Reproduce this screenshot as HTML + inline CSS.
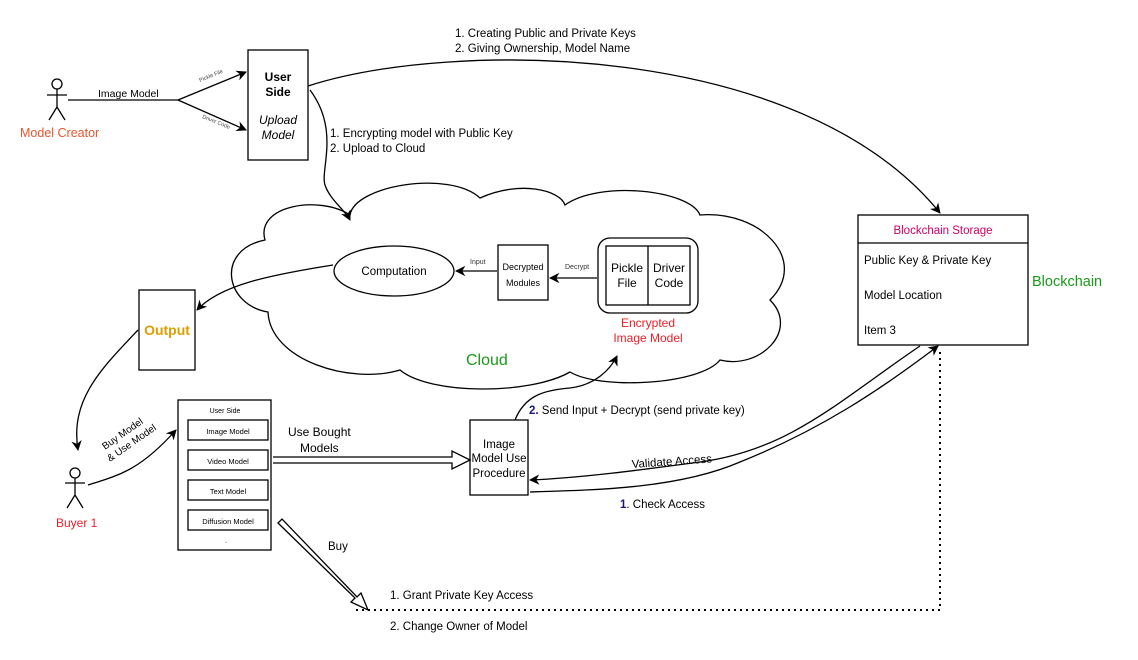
<!DOCTYPE html>
<html><head><meta charset="utf-8"><style>
body{margin:0;background:#fff}
svg{display:block;font-family:"Liberation Sans",Arial,sans-serif}
</style></head><body>
<svg width="1138" height="660" viewBox="0 0 1138 660" xmlns="http://www.w3.org/2000/svg">
<defs>
<marker id="a" viewBox="0 0 10 10" refX="9" refY="5" markerWidth="8" markerHeight="8" orient="auto-start-reverse"><path d="M0,0 L10,5 L0,10 L3,5z" fill="#000"/></marker>
</defs>
<rect width="1138" height="660" fill="#fff"/>
<g fill="none" stroke="#000" stroke-width="1.3">
<circle cx="57" cy="84" r="5"/>
<path d="M57,89 V107 M47,95 H67 M57,107 L49,120 M57,107 L65,120"/>
<path d="M68,100 H178"/>
<path d="M178,100 L246,72" marker-end="url(#a)"/>
<path d="M178,100 L246,130" marker-end="url(#a)"/>
<rect x="248" y="50" width="60" height="110"/>
<path d="M308,86 C450,40 800,40 940,213" marker-end="url(#a)"/>
<path d="M310,90 C340,130 320,170 325,185 C330,200 345,210 350,220" marker-end="url(#a)"/>
<path d="M268,312 C225,305 215,250 265,240 C255,205 320,195 350,215 C355,185 450,170 480,198 C520,180 560,190 565,205 C600,180 690,190 700,215 C760,210 810,260 770,300 C800,330 760,370 720,360 C700,385 600,390 570,372 C530,395 430,395 400,370 C350,385 270,360 268,312 Z"/>
<ellipse cx="394" cy="271" rx="60" ry="25"/>
<rect x="498" y="245" width="50" height="55"/>
<rect x="598" y="238" width="100" height="75" rx="12"/>
<rect x="606" y="246" width="84" height="59"/>
<path d="M648,246 V305"/>
<path d="M597,278 H550" marker-end="url(#a)"/>
<path d="M497,271 H456" marker-end="url(#a)"/>
<rect x="858" y="215" width="170" height="130"/>
<path d="M858,243 H1028"/>
<rect x="139" y="290" width="56" height="80"/>
<path d="M333,265 C270,275 220,285 197,310" marker-end="url(#a)"/>
<path d="M138,330 C100,370 70,400 78,450" marker-end="url(#a)"/>
<circle cx="75" cy="473" r="5"/>
<path d="M75,478 V495 M65,483 H85 M75,495 L67,508 M75,495 L83,508"/>
<path d="M88,485 C120,475 140,470 176,430" marker-end="url(#a)"/>
<rect x="178" y="400" width="93" height="150"/>
<rect x="188" y="420" width="80" height="20"/>
<rect x="188" y="450" width="80" height="20"/>
<rect x="188" y="480" width="80" height="20"/>
<rect x="188" y="510" width="80" height="20"/>
<path d="M273,457 H452 V451 L470,460 L452,469 V463 H273"/>
<rect x="470" y="420" width="58" height="75"/>
<path d="M515,420 C525,395 545,390 570,388 C595,385 610,370 617,356" marker-end="url(#a)"/>
<path d="M920,346 C840,400 790,450 700,462 C640,470 580,478 530,480" marker-end="url(#a)"/>
<path d="M530,492 C600,490 680,488 740,462 C820,430 880,390 938,346" marker-end="url(#a)"/>
<path d="M940,352 V610 H355" stroke-dasharray="2,4" stroke-width="2"/>
<path d="M278,523 L355,598 L351,602 L368,610 L361,593 L357,597 L282,519 Z"/>
</g>
<g font-size="11.5" fill="#000">
<text x="20" y="137" fill="#e8562e" font-size="12.5">Model Creator</text>
<text x="98" y="97" font-size="10.5">Image Model</text>
<text x="200" y="82" font-size="5.5" transform="rotate(-22 200 82)" fill="#444">Pickle File</text>
<text x="202" y="118" font-size="5.5" transform="rotate(22 202 118)" fill="#444">Driver Code</text>
<text x="278" y="81" text-anchor="middle" font-weight="bold" font-size="12">User</text>
<text x="278" y="96" text-anchor="middle" font-weight="bold" font-size="12">Side</text>
<text x="278" y="124" text-anchor="middle" font-style="italic" font-size="12">Upload</text>
<text x="278" y="139" text-anchor="middle" font-style="italic" font-size="12">Model</text>
<text x="455" y="37">1. Creating Public and Private Keys</text>
<text x="455" y="52">2. Giving Ownership, Model Name</text>
<text x="330" y="137">1. Encrypting model with Public Key</text>
<text x="330" y="152">2. Upload to Cloud</text>
<text x="394" y="275" text-anchor="middle">Computation</text>
<text x="523" y="270" text-anchor="middle" font-size="9">Decrypted</text>
<text x="523" y="286" text-anchor="middle" font-size="9">Modules</text>
<text x="565" y="269" font-size="7" fill="#333">Decrypt</text>
<text x="470" y="264" font-size="7" fill="#333">Input</text>
<text x="627" y="272" text-anchor="middle" font-size="12">Pickle</text>
<text x="627" y="287" text-anchor="middle" font-size="12">File</text>
<text x="669" y="272" text-anchor="middle" font-size="12">Driver</text>
<text x="669" y="287" text-anchor="middle" font-size="12">Code</text>
<text x="648" y="327" text-anchor="middle" fill="#e8202a" font-size="12">Encrypted</text>
<text x="648" y="342" text-anchor="middle" fill="#e8202a" font-size="12">Image Model</text>
<text x="466" y="365" fill="#1a9a1a" font-size="16">Cloud</text>
<text x="943" y="234" text-anchor="middle" fill="#cc0066">Blockchain Storage</text>
<text x="864" y="264">Public Key &amp; Private Key</text>
<text x="864" y="299">Model Location</text>
<text x="864" y="334">Item 3</text>
<text x="1032" y="286" fill="#1a9a1a" font-size="14.5">Blockchain</text>
<text x="167" y="335" text-anchor="middle" fill="#d9a000" font-weight="bold" font-size="14">Output</text>
<text x="56" y="527" fill="#e8202a" font-size="12">Buyer 1</text>
<text x="105" y="450" font-size="10" transform="rotate(-35 105 450)">Buy Model</text>
<text x="110" y="462" font-size="10" transform="rotate(-35 110 462)">&amp; Use Model</text>
<text x="225" y="413" text-anchor="middle" font-size="7">User Side</text>
<text x="228" y="434" text-anchor="middle" font-size="7.5">Image Model</text>
<text x="228" y="464" text-anchor="middle" font-size="7.5">Video Model</text>
<text x="228" y="494" text-anchor="middle" font-size="7.5">Text Model</text>
<text x="228" y="524" text-anchor="middle" font-size="7.5">Diffusion Model</text>
<text x="225" y="543" font-size="7">.</text>
<text x="288" y="436" font-size="12">Use Bought</text>
<text x="300" y="452" font-size="12">Models</text>
<text x="499" y="448" text-anchor="middle" font-size="11.5">Image</text>
<text x="499" y="462" text-anchor="middle" font-size="11.5">Model Use</text>
<text x="499" y="477" text-anchor="middle" font-size="11.5">Procedure</text>
<text x="529" y="414"><tspan fill="#1a1a7a" font-weight="bold">2.</tspan>  Send Input + Decrypt (send private key)</text>
<text x="632" y="468" transform="rotate(-4 632 468)">Validate Access</text>
<text x="620" y="508"><tspan fill="#1a1a7a" font-weight="bold">1</tspan>. Check Access</text>
<text x="328" y="550">Buy</text>
<text x="390" y="599">1. Grant Private Key Access</text>
<text x="390" y="630">2. Change Owner of Model</text>
</g>
</svg>
</body></html>
